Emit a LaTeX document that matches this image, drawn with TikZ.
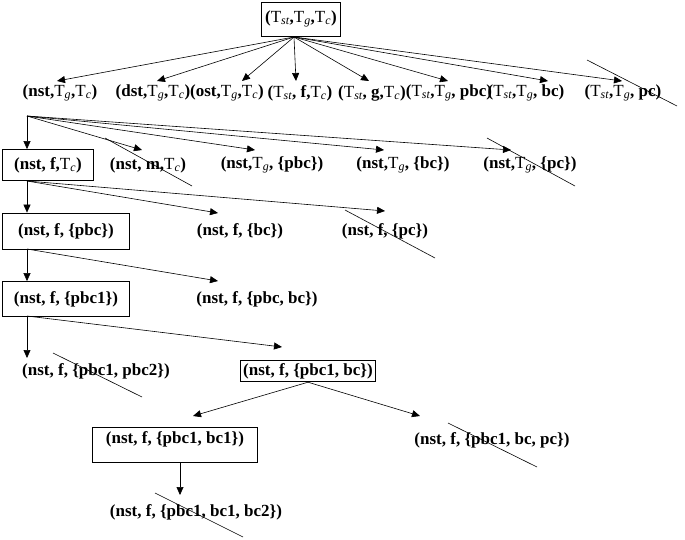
\documentclass[tikz,border=0pt]{standalone}
\usepackage{fontspec}
\setmainfont{Liberation Serif}
\usetikzlibrary{arrows.meta}

\newcommand{\Tst}{{\mdseries T\textsubscript{\itshape st}}}
\newcommand{\Tg}{{\mdseries T\textsubscript{\itshape g}}}
\newcommand{\Tc}{{\mdseries T\textsubscript{\itshape c}}}

\begin{document}
\begin{tikzpicture}[x=1pt, y=-1pt,
        state/.style={font=\fontsize{17}{19}\selectfont\bfseries, inner sep=1pt},
        sel/.style={state, draw, thick, inner sep=4pt},
        cut/.style={semithick},
        every path/.style={semithick},
        >={Triangle[length=8pt,width=7pt]}]

        \useasboundingbox (0,0) rectangle (685,539);

        % Nodes
        \node[sel, minimum height=34pt] (root) at (301,19) {(\Tst,\Tg,\Tc)};

        \node[state] (nst) at (60,93) {(nst,\Tg,\Tc)};
        \node[state] (dst) at (153,93) {(dst,\Tg,\Tc)};
        \node[state] (ost) at (227,93) {(ost,\Tg,\Tc)};
        \node[state] (sf) at (300,93) {(\Tst, f,\Tc)};
        \node[state] (sg) at (372,93) {(\Tst, g,\Tc)};
        \node[state] (spbc) at (449,93) {(\Tst,\Tg, pbc)};
        \node[state] (sbc) at (526,93) {(\Tst,\Tg, bc)};
        \node[state] (spc) at (623,93) {(\Tst,\Tg, pc)};

        \node[sel, minimum width=91pt, minimum height=31pt] (nf) at (48,165) {(nst, f,\Tc)};
        \node[state] (nm) at (148,165) {(nst, m,\Tc)};
        \node[state] (npbc) at (272,165) {(nst,\Tg, \{pbc\})};
        \node[state] (nbc) at (403,165) {(nst,\Tg, \{bc\})};
        \node[state] (npc) at (530,165) {(nst,\Tg, \{pc\})};

        \node[sel, minimum width=127pt, minimum height=36pt] (fpbc) at (66,231) {(nst, f, \{pbc\})};
        \node[state] (fbc) at (240,231) {(nst, f, \{bc\})};
        \node[state] (fpc) at (385,231) {(nst, f, \{pc\})};

        \node[sel, minimum width=127pt, minimum height=35pt] (fpbcone) at (66,299) {(nst, f, \{pbc1\})};
        \node[state] (fpbcbc) at (257,299) {(nst, f, \{pbc, bc\})};

        \node[state] (fpbctwo) at (96,371) {(nst, f, \{pbc1, pbc2\})};
        \node[sel, inner sep=3pt] (fpbconebc) at (308,371) {(nst, f, \{pbc1, bc\})};

        \node[sel, minimum width=165pt, minimum height=35pt, text depth=14pt] (fbcone) at (175,445) {(nst, f, \{pbc1, bc1\})};
        \node[state] (fbcpc) at (492,440) {(nst, f, \{pbc1, bc, pc\})};

        \node[state] (fbctwo) at (196,512) {(nst, f, \{pbc1, bc1, bc2\})};

        % Edges
        \coordinate (r) at (294,37);
        \foreach \x in {57, 157, 242, 296, 369, 448, 548, 622}
            \draw[->] (r) -- (\x,81);
        \coordinate (a) at (27,116);
        \foreach \x in {142, 255, 384, 511}
            \draw[->] (a) -- (\x,150);
        \draw[->] (a) -- (nf.north -| a);
        \coordinate (b) at (27,181);
        \draw[->] (b) -- (fpbc.north -| b);
        \draw[->] (b) -- (218,213);
        \draw[->] (b) -- (385,211);
        \coordinate (c) at (27,249);
        \draw[->] (c) -- (fpbcone.north -| c);
        \draw[->] (c) -- (218,281);
        \coordinate (d) at (27,316);
        \draw[->] (d) -- (27,358);
        \draw[->] (d) -- (282,347);
        \draw[->] (fpbconebc.south) -- (193,416);
        \draw[->] (fpbconebc.south) -- (420,416);
        \coordinate (e) at (180,462);
        \draw[->] (e) -- (180,495);

        % Pruned
        \draw[cut] (587,60) -- (677,106);
        \draw[cut] (105,138) -- (192,186);
        \draw[cut] (487,138) -- (575,186);
        \draw[cut] (345,210) -- (435,258);
        \draw[cut] (53,353) -- (142,397);
        \draw[cut] (448,423) -- (537,467);
        \draw[cut] (155,493) -- (243,537);

    \end{tikzpicture}
\end{document}
